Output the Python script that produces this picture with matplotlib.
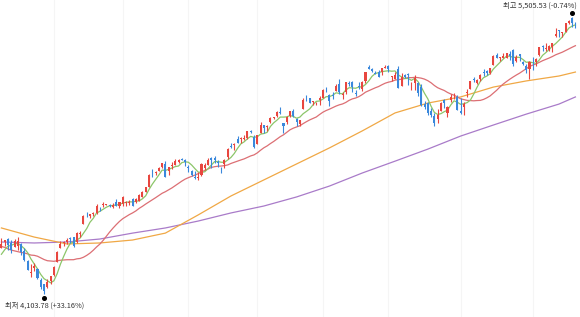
import numpy as np
import matplotlib.pyplot as plt
import pandas as pd

plt.rcParams['font.family'] = ['Noto Sans CJK KR', 'DejaVu Sans']

# daily candles, Oct 10 2023 .. Jun 21 2024 (rows of 10)
opens = [4339, 4366, 4380, 4360, 4342, 4345, 4357, 4322, 4273, 4211,
         4235, 4232, 4175, 4152, 4140, 4172, 4201, 4268, 4335, 4364,
         4366, 4385, 4391, 4365, 4407, 4459, 4505, 4497, 4510, 4512,
         4539, 4553, 4555, 4555, 4546, 4571, 4549, 4559, 4564, 4566,
         4586, 4568, 4576, 4593, 4619, 4646, 4721, 4714, 4725, 4744,
         4764, 4724, 4753, 4758, 4774, 4786, 4782, 4745, 4726, 4698,
         4690, 4704, 4741, 4759, 4792, 4791, 4772, 4740, 4761, 4797,
         4853, 4856, 4889, 4886, 4888, 4892, 4926, 4899, 4862, 4917,
         4957, 4950, 4974, 4996, 5004, 5027, 4968, 4976, 5004, 5031,
         4989, 4964, 5039, 5093, 5094, 5074, 5068, 5085, 5098, 5132,
         5110, 5109, 5132, 5164, 5112, 5125, 5174, 5175, 5123, 5154,
         5139, 5182, 5253, 5243, 5220, 5228, 5226, 5248, 5258, 5204,
         5194, 5244, 5158, 5211, 5217, 5160, 5172, 5171, 5149, 5065,
         5068, 5031, 5006, 4988, 5028, 5084, 5020, 5085, 5115, 5103,
         5029, 5049, 5123, 5142, 5189, 5173, 5190, 5225, 5234, 5222,
         5263, 5311, 5300, 5299, 5298, 5320, 5340, 5282, 5316, 5279,
         5260, 5243, 5285, 5278, 5315, 5357, 5343, 5341, 5354, 5409,
         5441, 5424, 5432, 5476, 5499, 5466]
highs = [4385, 4378, 4385, 4377, 4383, 4394, 4364, 4339, 4276, 4256,
         4260, 4233, 4183, 4156, 4178, 4194, 4245, 4320, 4373, 4372,
         4386, 4391, 4393, 4418, 4421, 4503, 4521, 4511, 4521, 4557,
         4542, 4569, 4560, 4561, 4562, 4587, 4569, 4599, 4574, 4578,
         4590, 4591, 4610, 4623, 4644, 4709, 4738, 4725, 4749, 4769,
         4778, 4748, 4772, 4785, 4785, 4793, 4789, 4755, 4729, 4727,
         4721, 4765, 4765, 4791, 4799, 4803, 4782, 4744, 4786, 4843,
         4868, 4867, 4903, 4899, 4907, 4929, 4932, 4906, 4907, 4976,
         4958, 4958, 4999, 5001, 5030, 5049, 4971, 5003, 5032, 5039,
         4994, 4983, 5094, 5111, 5097, 5081, 5077, 5105, 5141, 5149,
         5115, 5128, 5165, 5190, 5125, 5179, 5180, 5180, 5137, 5176,
         5180, 5226, 5261, 5246, 5230, 5236, 5249, 5264, 5264, 5209,
         5228, 5256, 5222, 5219, 5224, 5178, 5211, 5176, 5169, 5078,
         5077, 5046, 5020, 5038, 5076, 5089, 5057, 5114, 5123, 5110,
         5096, 5073, 5140, 5181, 5200, 5191, 5215, 5240, 5238, 5250,
         5311, 5325, 5305, 5325, 5324, 5333, 5342, 5312, 5316, 5282,
         5270, 5281, 5303, 5298, 5354, 5362, 5375, 5366, 5376, 5448,
         5442, 5432, 5477, 5490, 5505.53, 5478]
lows = [4339, 4345, 4325, 4311, 4342, 4327, 4303, 4269, 4223, 4190,
        4220, 4181, 4127, 4103.78, 4132, 4153, 4197, 4268, 4335, 4347,
        4355, 4361, 4344, 4363, 4393, 4459, 4495, 4488, 4500, 4510,
        4525, 4546, 4552, 4546, 4541, 4547, 4537, 4547, 4547, 4552,
        4547, 4566, 4574, 4593, 4618, 4643, 4694, 4704, 4725, 4743,
        4697, 4708, 4737, 4758, 4768, 4780, 4751, 4723, 4700, 4688,
        4683, 4700, 4731, 4756, 4740, 4769, 4747, 4714, 4741, 4786,
        4844, 4835, 4866, 4866, 4881, 4887, 4917, 4845, 4862, 4917,
        4918, 4927, 4970, 4988, 5002, 5016, 4920, 4964, 4999, 4997,
        4955, 4953, 5038, 5082, 5068, 5058, 5059, 5061, 5094, 5128,
        5057, 5089, 5132, 5117, 5092, 5115, 5155, 5126, 5104, 5143,
        5131, 5172, 5240, 5229, 5215, 5204, 5214, 5246, 5229, 5184,
        5194, 5146, 5157, 5198, 5161, 5138, 5138, 5107, 5053, 5040,
        5008, 5001, 4954, 4970, 5028, 5047, 5002, 5074, 5089, 5035,
        5013, 5011, 5101, 5142, 5178, 5165, 5182, 5207, 5211, 5217,
        5263, 5296, 5283, 5297, 5297, 5287, 5257, 5279, 5281, 5263,
        5222, 5192, 5235, 5257, 5307, 5336, 5332, 5331, 5328, 5404,
        5403, 5404, 5428, 5471, 5455, 5452]
closes = [4358, 4377, 4350, 4328, 4374, 4373, 4315, 4278, 4224, 4217,
          4248, 4187, 4137, 4117, 4167, 4194, 4238, 4318, 4358, 4366,
          4378, 4383, 4347, 4415, 4412, 4496, 4503, 4508, 4514, 4547,
          4538, 4557, 4559, 4550, 4555, 4551, 4568, 4595, 4570, 4567,
          4549, 4586, 4604, 4622, 4644, 4707, 4720, 4719, 4741, 4768,
          4698, 4747, 4755, 4775, 4782, 4783, 4770, 4743, 4705, 4689,
          4697, 4764, 4757, 4784, 4780, 4784, 4766, 4739, 4781, 4840,
          4850, 4865, 4869, 4894, 4891, 4928, 4925, 4846, 4906, 4959,
          4943, 4954, 4995, 4998, 5027, 5022, 4953, 5001, 5030, 5006,
          4976, 4982, 5087, 5089, 5070, 5078, 5070, 5096, 5137, 5131,
          5079, 5105, 5157, 5124, 5118, 5175, 5165, 5150, 5117, 5149,
          5179, 5225, 5241, 5234, 5218, 5204, 5248, 5254, 5244, 5206,
          5211, 5147, 5204, 5202, 5210, 5161, 5199, 5123, 5062, 5051,
          5022, 5011, 4967, 5011, 5071, 5072, 5048, 5100, 5116, 5036,
          5018, 5064, 5128, 5181, 5188, 5188, 5214, 5223, 5221, 5247,
          5308, 5297, 5303, 5308, 5321, 5307, 5268, 5305, 5306, 5267,
          5236, 5278, 5283, 5291, 5354, 5353, 5347, 5361, 5375, 5421,
          5434, 5432, 5473, 5487, 5473, 5464.62]

# closes before the window, for the short averages
prior_closes = [4467, 4505, 4450, 4454, 4444, 4402, 4330, 4320, 4337, 4274,
                4275, 4300, 4288, 4288, 4229, 4263, 4258, 4309, 4336]

# 60 / 120 day averages every 10 candles
ma_idx = [0, 10, 20, 30, 40, 50, 60, 70, 80, 90, 100, 110, 120, 130, 140, 150, 160, 170, 175]
ma60 = [4438, 4392, 4357, 4362, 4377, 4412, 4504, 4600, 4681, 4762,
        4843, 4929, 5020, 5070, 5101, 5151, 5182, 5207, 5227]
ma120 = [4367, 4362, 4367, 4382, 4412, 4438, 4473, 4514, 4549, 4595,
         4650, 4716, 4776, 4837, 4903, 4959, 5014, 5065, 5101]

# first trading day of each month
month_starts = [16, 37, 57, 78, 98, 118, 140, 162]

o = np.array(opens, float)
h = np.array(highs, float)
l = np.array(lows, float)
c = np.array(closes, float)
x = np.arange(len(c))

full = pd.Series(prior_closes + list(closes), dtype=float)
ma5 = full.rolling(5).mean().iloc[len(prior_closes):].values
ma20 = full.rolling(20).mean().iloc[len(prior_closes):].values

up_col = '#e8463f'
down_col = '#3a88dc'

fig = plt.figure(figsize=(5.8, 3.17), dpi=100)
ax = fig.add_axes([0, 0, 1, 1])

for m in month_starts:
    ax.axvline(m, color='#f5f5f5', lw=0.8, zorder=0)

ax.plot(ma_idx, ma120, color='#a97bc9', lw=0.9, zorder=1)
ax.plot(ma_idx, ma60, color='#f0a845', lw=0.9, zorder=1)
ax.plot(x, ma20, color='#dc6f74', lw=0.9, zorder=1)
ax.plot(x, ma5, color='#8cc66a', lw=0.9, zorder=1)

up = c >= o
cols = np.where(up, up_col, down_col)
ax.vlines(x, l, h, colors=cols, lw=0.8, zorder=2)
body = np.maximum(np.abs(c - o), 1.5)
ax.bar(x, body, bottom=np.minimum(o, c), width=0.62, color=cols, zorder=3)

ax.set_xlim(-0.43, 176.4)
ax.set_ylim(3987.4, 5591.6)
ax.axis('off')

hi_i = int(np.argmax(h))
lo_i = int(np.argmin(l))
last = c[-1]
ax.plot(hi_i, h[hi_i] + 18, 'o', color='black', ms=2.6, zorder=4)
ax.plot(lo_i, l[lo_i] - 18, 'o', color='black', ms=2.6, zorder=4)
ax.text(175.5, h[hi_i] + 56, f'최고 {h[hi_i]:,.2f} ({(last / h[hi_i] - 1) * 100:+.2f}%)',
        ha='right', va='center', fontsize=5.3, color='#333333')
ax.text(1, l[lo_i] - 61, f'최저 {l[lo_i]:,.2f} ({(last / l[lo_i] - 1) * 100:+.2f}%)',
        ha='left', va='center', fontsize=5.3, color='#333333')

fig.savefig('out.png', dpi=100)
